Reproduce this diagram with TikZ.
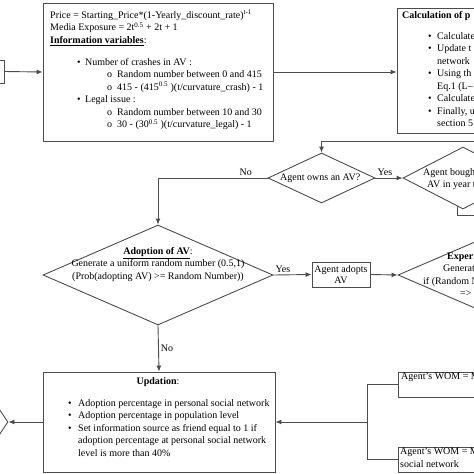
\documentclass[tikz,border=0pt]{standalone}
\usepackage{fontspec}
\setmainfont{Liberation Serif}
\usetikzlibrary{arrows.meta,shapes.geometric,positioning}

\tikzset{
  box/.style={draw=black!70, line width=0.9pt, rectangle, inner sep=0pt},
  dmd/.style={draw=black!70, line width=0.9pt, diamond, inner sep=0pt},
  arr/.style={draw=black!70, line width=0.9pt, -{Latex[length=6pt,width=5pt]}},
  ln/.style={draw=black!70, line width=0.9pt},
  txt/.style={inner sep=0pt, align=left, anchor=north west, font=\fontsize{10}{12.5}\selectfont},
  lbl/.style={inner sep=2pt, font=\fontsize{10}{12}\selectfont}
}
\newcommand{\bul}[1]{\makebox[#1][l]{\textbullet}}

\begin{document}
\begin{tikzpicture}[x=1pt,y=-1pt]
\path[use as bounding box] (0,0) rectangle (474,474);
\clip (0,0) rectangle (474,474);

% boxes
\node[box, minimum width=40, minimum height=23] (start) at (-16,71.5) {};
\node[box, minimum width=230, minimum height=138] (info) at (158,72) {};
\node[box, minimum width=140, minimum height=125] (calc) at (467,70.5) {};
\node[box, minimum width=58, minimum height=25, align=center, font=\fontsize{10}{11.5}\selectfont] (adopts) at (341,274.5) {Agent adopts\\AV};
\node[box, minimum width=232, minimum height=100] (upd) at (159,422) {};
\node[box, minimum width=120, minimum height=25] (wom1) at (458,384.5) {};
\node[box, minimum width=120, minimum height=25] (wom2) at (458,459.5) {};

% diamonds
\node[dmd, minimum width=107, minimum height=50] (owns) at (321.5,178) {};
\node[dmd, minimum width=120, minimum height=62] (bought) at (463,178) {};
\node[dmd, minimum width=230, minimum height=100] (adopt) at (158,275) {};
\node[dmd, minimum width=204, minimum height=88] (exper) at (500,275) {};
\node[dmd, minimum width=16, minimum height=24] (end) at (0,422) {};

% texts
\node[txt] (infotxt) at (50,10) {Price = Starting\_Price*(1-Yearly\_discount\_rate)\textsuperscript{t-1}\\
  Media Exposure = 2t\textsuperscript{0.5} + 2t + 1\\
  \underline{\textbf{Information variables}}:\\[9.5pt]
  \hspace*{27pt}\bul{8pt}Number of crashes in AV :\\
  \hspace*{57pt}\makebox[10pt][l]{o}Random number between 0 and 415\\
  \hspace*{57pt}\makebox[10pt][l]{o}415 - (415\textsuperscript{0.5} )(t/curvature\_crash) - 1\\
  \hspace*{27pt}\bul{8pt}Legal issue :\\
  \hspace*{57pt}\makebox[10pt][l]{o}Random number between 10 and 30\\
  \hspace*{57pt}\makebox[10pt][l]{o}30 - (30\textsuperscript{0.5} )(t/curvature\_legal) - 1};
\node[txt] (calctxt) at (402,11) {\textbf{Calculation of p}\\[8.5pt]
  \hspace*{26pt}\bul{9pt}Calculate\\
  \hspace*{26pt}\bul{9pt}Update t\\
  \hspace*{35pt}network\\
  \hspace*{26pt}\bul{9pt}Using th\\
  \hspace*{35pt}Eq.1 (L--\\
  \hspace*{26pt}\bul{9pt}Calculate\\
  \hspace*{26pt}\bul{9pt}Finally, u\\
  \hspace*{35pt}section 5};
\node[txt] (ownstxt) at (280,174) {Agent owns an AV?};
\node[txt] (boughttxt) at (423,168) {Agent bough\\\hspace*{4pt}AV in year t};
\node[txt, anchor=north, align=center] (adopttxt) at (158,247) {\underline{\textbf{Adoption of AV}}:\\
  Generate a uniform random number (0.5,1)\\
  (Prob(adopting AV) >= Random Number))};
\node[txt] (expertxt) at (423,252) {\hspace*{24pt}\textbf{Experi}\\
  \hspace*{20pt}Generat\\
  if (Random N\\
  \hspace*{37pt}=>};
\node[txt, anchor=north] (updtitle) at (158,377) {\textbf{Updation}:};
\node[txt] (updtxt) at (68,399) {\bul{10pt}Adoption percentage in personal social network\\
  \bul{10pt}Adoption percentage in population level\\
  \bul{10pt}Set information source as friend equal to 1 if\\
  \hspace*{10pt}adoption percentage at personal social network\\
  \hspace*{10pt}level is more than 40\%};
\node[txt] (wom1txt) at (401,373) {Agent's WOM = M};
\node[txt] (wom2txt) at (400,448) {Agent's WOM = M\\social network};

% connectors
\draw[arr] (start.east) -- (info.west);
\draw[arr] (info.east) -- (info.east -| calc.west);
\coordinate (r1) at (480,141);
\draw[arr] (r1) -| (owns.north);
\draw[arr] (owns.west) -| (adopt.north) node[lbl, pos=0.1, above] {No};
\draw[arr] (owns.east) -- (bought.west) node[lbl, pos=0.35, above] {Yes};
\coordinate (r2) at (480,215);
\draw[ln] (457,206) |- (r2);
\draw[arr] (adopt.east) -- (adopts.west) node[lbl, pos=0.25, above] {Yes};
\draw[arr] (adopts.east) -- (exper.west);
\draw[arr] (adopt.south) -- (upd.north) node[lbl, midway, right] {No};
\coordinate (j) at (367,422);
\draw[ln] (wom1.west) -| (j);
\draw[ln] (wom2.west) -| (j);
\draw[arr] (j) -- (upd.east);
\draw[arr] (upd.west) -- (end.east);
\end{tikzpicture}
\end{document}
